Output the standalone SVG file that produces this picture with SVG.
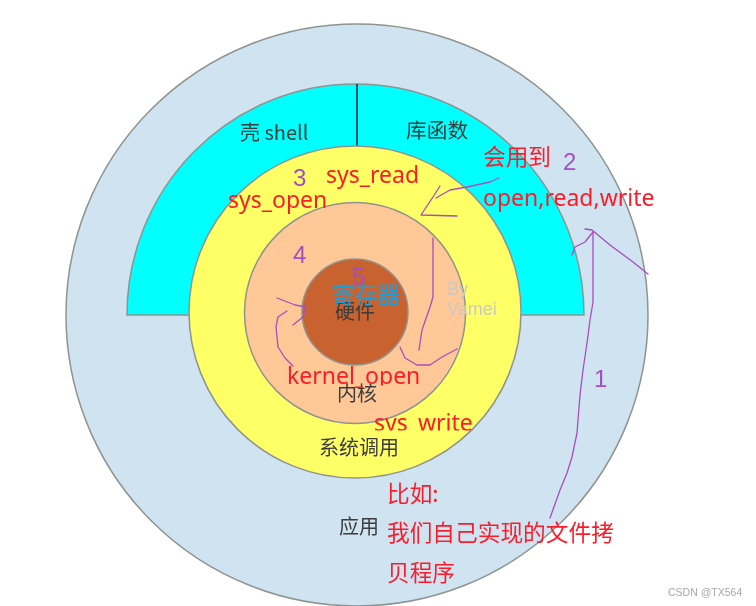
<svg xmlns="http://www.w3.org/2000/svg" width="756" height="606" viewBox="0 0 756 606">
<style>
.ring{stroke:#8f9490;stroke-width:1.5}
.lbl{font-family:"Noto Sans CJK SC","Noto Sans",sans-serif;font-size:20px;fill:#3c3c3c}
.red{font-family:"Noto Sans","Noto Sans CJK SC",sans-serif;font-size:23px;fill:#fb1e2c}
.cjk{font-family:"Noto Sans CJK SC",sans-serif;font-size:22.7px}
.num{font-family:"Liberation Sans",sans-serif;font-size:24px;fill:#a24fc0}
.wm{font-family:"Liberation Sans",sans-serif;font-size:18px;fill:#c9c9c9}
.ink{fill:none;stroke:#a94dbf;stroke-width:1.3;stroke-linejoin:round;stroke-linecap:round}
</style>
<defs>
<filter id="soft" filterUnits="userSpaceOnUse" x="0" y="0" width="756" height="606"><feGaussianBlur stdDeviation="0.4"/></filter>
<clipPath id="cutK"><rect x="280" y="360" width="150" height="25.5"/><rect x="353" y="385" width="10" height="6"/></clipPath>
<clipPath id="cutW"><rect x="370" y="405" width="110" height="25.5"/></clipPath>
</defs>
<rect width="756" height="606" fill="#fff"/>
<g filter="url(#soft)">
<g id="app"><circle class="ring" cx="357" cy="315" r="291" fill="#cfe3f1"/><text class="lbl" x="339" y="534">应用</text></g>
<g id="shell-lib"><path class="ring" d="M127 315A228.500 231 0 0 1 355.500 84A228.500 231 0 0 1 584 315Z" fill="#00ffff" stroke="#5f9ea0"/><path d="M357 84V147" stroke="#223" stroke-width="1.5"/><text class="lbl" x="240" y="140">壳 shell</text><text class="lbl" x="406" y="138" style="font-size:20.7px">库函数</text></g>
<g id="syscall"><circle class="ring" cx="355" cy="312" r="166" fill="#ffff66"/><text class="lbl" x="319" y="455">系统调用</text></g>
<g id="kernel"><circle class="ring" cx="355" cy="313" r="110.500" fill="#ffc896"/><text class="lbl" x="337" y="401">内核</text></g>
<g id="hardware"><circle class="ring" cx="355" cy="312" r="53" fill="#c8622e"/><text class="lbl" x="335" y="319">硬件</text></g>
<g id="connectors">
<path class="ink" d="M499 178L490 182L467 187L450 190L436 198"/>
<path class="ink" d="M440 186L433 197L421 215L457 216"/>
<path class="ink" d="M433 238V297L430 307L422 330L419 350"/>
<path class="ink" d="M400 347L405 358L417 365L430 365L442 357L457 349"/>
<path class="ink" d="M593 232V302L590 320L587 343L583 370L580 395L578 420L577 433L572 457L567 473L560 490L550 518"/>
<path class="ink" d="M572 255L575 247L585 242L593 232"/>
<path class="ink" d="M585 229L592 230L610 245L633 262L648 274"/>
<path class="ink" d="M277 298L295 305L306 307L303 317L293 325"/>
<path class="ink" d="M287 311L278 317L276 327L278 347L285 358L293 366"/>
</g>
<g id="annotations">
<text class="red" x="326" y="183">sys_read</text>
<text class="red" x="228" y="208">sys_open</text>
<text class="red" x="287" y="384" clip-path="url(#cutK)">kernel_open</text>
<text class="red" x="374" y="431" clip-path="url(#cutW)">sys_write</text>
<text class="red" x="483" y="206">open,read,write</text>
<text class="red cjk" x="483" y="165">会用到</text>
<text class="red cjk" x="387" y="502">比如:</text>
<text class="red cjk" x="387" y="541">我们自己实现的文件拷</text>
<text class="red cjk" x="387" y="581">贝程序</text>
<text class="num" x="293" y="186">3</text>
<text class="num" x="293" y="263">4</text>
<text class="num" x="352" y="285">5</text>
<text class="cjk" x="332" y="303" style="fill:#1b9fdc">寄存器</text>
<text class="num" x="563" y="170">2</text>
<text class="num" x="594" y="387">1</text>
<text class="wm" x="447" y="295">By</text>
<text class="wm" x="447" y="315">Vamei</text>
</g>
<text x="668" y="596" style="font-family:'Liberation Sans',sans-serif;font-size:10.500px;fill:#a8a8a8">CSDN @TX564</text>
</g>
</svg>
